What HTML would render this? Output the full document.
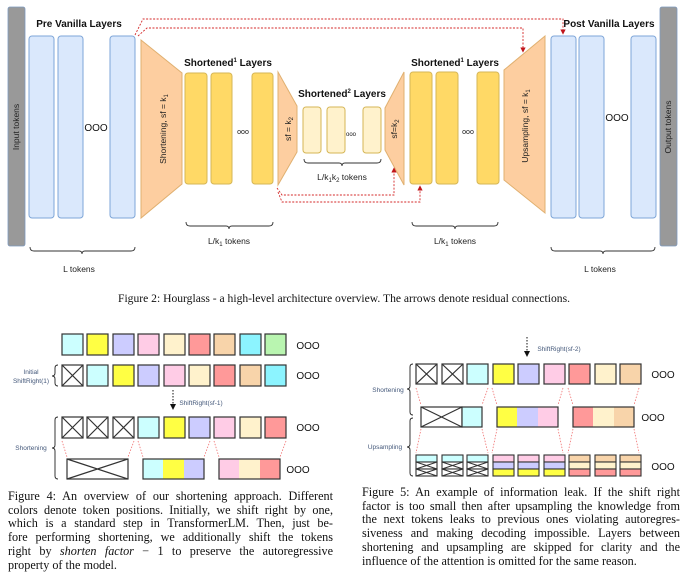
<!DOCTYPE html>
<html><head><meta charset="utf-8"><style>
body{margin:0;background:#fff;width:687px;height:584px;overflow:hidden;position:relative}
svg{position:absolute;left:0;top:0}
.cap{position:absolute;font-family:"Liberation Serif",serif;font-size:12.2px;line-height:13.7px;color:#111}
.cap div{text-align:justify;text-align-last:justify;white-space:nowrap}
.cap div.l{text-align-last:left}
</style></head><body>
<svg width="687" height="584" viewBox="0 0 687 584" font-family="Liberation Sans, sans-serif">
<defs>
<marker id="ar" markerWidth="6" markerHeight="6" refX="3" refY="3" orient="auto"><path d="M0,0 L6,3 L0,6 z" fill="#c0151b"/></marker>
<marker id="ak" markerWidth="6" markerHeight="6" refX="3" refY="3" orient="auto"><path d="M0,0 L6,3 L0,6 z" fill="#111"/></marker>
</defs>
<rect x="8" y="7" width="17" height="239" rx="2" fill="#999" stroke="#7e9ac0" stroke-width="0.8"/>
<text transform="translate(19,127) rotate(-90)" text-anchor="middle" font-size="8.5" fill="#222">Input tokens</text>
<rect x="660" y="7" width="17" height="239" rx="2" fill="#999" stroke="#7e9ac0" stroke-width="0.8"/>
<text transform="translate(671,127) rotate(-90)" text-anchor="middle" font-size="8.5" fill="#222">Output tokens</text>
<g fill="#dae8fc" stroke="#7ea6d8" stroke-width="1">
<rect x="29" y="36" width="25" height="182" rx="3"/><rect x="58" y="36" width="25" height="182" rx="3"/><rect x="110" y="36" width="25" height="182" rx="3"/>
<rect x="551" y="36" width="25" height="182" rx="3"/><rect x="579" y="36" width="25" height="182" rx="3"/><rect x="631" y="36" width="25" height="182" rx="3"/>
</g>
<g font-size="10" font-weight="bold" fill="#111">
<text x="79" y="27" text-anchor="middle">Pre Vanilla Layers</text>
<text x="609" y="27" text-anchor="middle">Post Vanilla Layers</text>
<text x="228" y="66" text-anchor="middle">Shortened<tspan font-size="6" dy="-4">1</tspan><tspan dy="4"> Layers</tspan></text>
<text x="455" y="66" text-anchor="middle">Shortened<tspan font-size="6" dy="-4">1</tspan><tspan dy="4"> Layers</tspan></text>
<text x="342" y="97" text-anchor="middle">Shortened<tspan font-size="6" dy="-4">2</tspan><tspan dy="4"> Layers</tspan></text>
</g>
<g font-size="10" fill="#111" text-anchor="middle">
<text x="96" y="131">OOO</text><text x="617" y="121">OOO</text>
<text x="243" y="134" font-size="7">ooo</text><text x="468" y="134" font-size="7">ooo</text><text x="351" y="136" font-size="6">ooo</text>
</g>
<g fill="#fdcea0" stroke="#e0b070" stroke-width="1">
<path d="M141,40 L182,73 L182,184 L141,218 z"/>
<path d="M278,72 L297,106 L297,152 L278,185 z"/>
<path d="M404,72 L385,108 L385,150 L404,185 z"/>
<path d="M545,36 L504,70 L504,180 L545,213 z"/>
</g>
<g fill="#ffd966" stroke="#d6b656" stroke-width="1">
<rect x="185" y="73" width="22" height="111" rx="3"/><rect x="211" y="73" width="21" height="111" rx="3"/><rect x="252" y="73" width="21" height="111" rx="3"/>
<rect x="410" y="72" width="22" height="112" rx="3"/><rect x="436" y="72" width="22" height="112" rx="3"/><rect x="477" y="72" width="22" height="112" rx="3"/>
</g>
<g fill="#fff2cc" stroke="#d6b656" stroke-width="1">
<rect x="303" y="107" width="18" height="46" rx="3"/><rect x="327" y="107" width="18" height="46" rx="3"/><rect x="363" y="107" width="18" height="46" rx="3"/>
</g>
<g font-size="8.5" fill="#222" text-anchor="middle">
<text transform="translate(166,129) rotate(-90)">Shortening, sf = k<tspan font-size="6" dy="2">1</tspan></text>
<text transform="translate(291,129) rotate(-90)">sf = k<tspan font-size="6" dy="2">2</tspan></text>
<text transform="translate(397,129) rotate(-90)">sf=k<tspan font-size="6" dy="2">2</tspan></text>
<text transform="translate(528,126) rotate(-90)">Upsampling, sf = k<tspan font-size="6" dy="2">1</tspan></text>
<text x="79" y="272">L tokens</text><text x="600" y="272">L tokens</text>
<text x="229" y="244">L/k<tspan font-size="6" dy="2">1</tspan><tspan dy="-2"> tokens</tspan></text>
<text x="455" y="244">L/k<tspan font-size="6" dy="2">1</tspan><tspan dy="-2"> tokens</tspan></text>
<text x="342" y="180">L/k<tspan font-size="6" dy="2">1</tspan><tspan dy="-2">k</tspan><tspan font-size="6" dy="2">2</tspan><tspan dy="-2"> tokens</tspan></text>
</g>
<g fill="none" stroke="#333" stroke-width="0.9">
<path d="M30,247 q0,4 4,4 L79,251 q3,0 3,3 q0,-3 3,-3 L131,251 q4,0 4,-4"/>
<path d="M551,247 q0,4 4,4 L600,251 q3,0 3,3 q0,-3 3,-3 L651,251 q4,0 4,-4"/>
<path d="M186,222 q0,4 4,4 L226,226 q3,0 3,3 q0,-3 3,-3 L269,226 q4,0 4,-4"/>
<path d="M412,222 q0,4 4,4 L452,226 q3,0 3,3 q0,-3 3,-3 L494,226 q4,0 4,-4"/>
<path d="M304,159 q0,4 4,4 L339,163 q3,0 3,3 q0,-3 3,-3 L377,163 q4,0 4,-4"/>
</g>
<g fill="none" stroke="#d42a2a" stroke-width="0.9" stroke-dasharray="2,1.5">
<path d="M135,35 L143,19 L563,19 L563,32" marker-end="url(#ar)"/>
<path d="M138,36 L147,28 L523,28 L523,50" marker-end="url(#ar)"/>
<path d="M277,188 L282,195 L394,195 L394,170" marker-end="url(#ar)"/>
<path d="M278,192 L282,202 L420,202 L420,188" marker-end="url(#ar)"/>
</g>
<text x="344" y="302" text-anchor="middle" font-family="Liberation Serif, serif" font-size="11.6" fill="#111" textLength="452" lengthAdjust="spacingAndGlyphs">Figure 2: Hourglass - a high-level architecture overview. The arrows denote residual connections.</text>

<g stroke="#333" stroke-width="1.2">
<rect x="62" y="334" width="21" height="21" fill="#ccffff"/><rect x="87" y="334" width="21" height="21" fill="#ffff44"/><rect x="113" y="334" width="21" height="21" fill="#ccccff"/><rect x="138" y="334" width="21" height="21" fill="#ffcce6"/><rect x="164" y="334" width="21" height="21" fill="#fff2cc"/><rect x="189" y="334" width="21" height="21" fill="#ff9999"/><rect x="214" y="334" width="21" height="21" fill="#f8d4aa"/><rect x="240" y="334" width="21" height="21" fill="#8cf4ff"/><rect x="265" y="334" width="21" height="21" fill="#b9f5b0"/>
<rect x="62" y="365" width="21" height="21" fill="#fff"/><path d="M62,365 L83,386 M83,365 L62,386"/>
<rect x="87" y="365" width="21" height="21" fill="#ccffff"/><rect x="113" y="365" width="21" height="21" fill="#ffff44"/><rect x="138" y="365" width="21" height="21" fill="#ccccff"/><rect x="164" y="365" width="21" height="21" fill="#ffcce6"/><rect x="189" y="365" width="21" height="21" fill="#fff2cc"/><rect x="214" y="365" width="21" height="21" fill="#ff9999"/><rect x="240" y="365" width="21" height="21" fill="#f8d4aa"/><rect x="265" y="365" width="21" height="21" fill="#8cf4ff"/>
<rect x="62" y="417" width="21" height="21" fill="#fff"/><path d="M62,417 L83,438 M83,417 L62,438"/>
<rect x="87" y="417" width="21" height="21" fill="#fff"/><path d="M87,417 L108,438 M108,417 L87,438"/>
<rect x="113" y="417" width="21" height="21" fill="#fff"/><path d="M113,417 L134,438 M134,417 L113,438"/>
<rect x="138" y="417" width="21" height="21" fill="#ccffff"/><rect x="164" y="417" width="21" height="21" fill="#ffff44"/><rect x="189" y="417" width="21" height="21" fill="#ccccff"/><rect x="214" y="417" width="21" height="21" fill="#ffcce6"/><rect x="240" y="417" width="21" height="21" fill="#fff2cc"/><rect x="265" y="417" width="21" height="21" fill="#ff9999"/>
<rect x="67" y="459" width="61" height="20" fill="#fff"/><path d="M67,459 L128,479 M128,459 L67,479"/>
<rect x="143" y="459" width="20" height="20" fill="#ccffff" stroke="none"/><rect x="163" y="459" width="21" height="20" fill="#ffff44" stroke="none"/><rect x="184" y="459" width="20" height="20" fill="#ccccff" stroke="none"/><rect x="143" y="459" width="61" height="20" fill="none"/>
<rect x="219" y="459" width="20" height="20" fill="#ffcce6" stroke="none"/><rect x="239" y="459" width="21" height="20" fill="#fff2cc" stroke="none"/><rect x="260" y="459" width="20" height="20" fill="#ff9999" stroke="none"/><rect x="219" y="459" width="61" height="20" fill="none"/>
</g>
<g fill="none" stroke="#f07070" stroke-width="0.8" stroke-dasharray="1.5,1.5">
<path d="M62,441 L67,457 M134,441 L128,457 M138,441 L143,457 M210,441 L204,457 M214,441 L219,457 M286,441 L280,457"/>
<path d="M416,388 L421,405 M488,388 L482,405 M492,388 L497,405 M563,388 L558,405 M568,388 L573,405 M639,388 L634,405"/>
<path d="M421,429 L416,453 M482,429 L488,453 M497,429 L492,453 M558,429 L563,453 M573,429 L568,453 M634,429 L639,453"/>
</g>
<g font-size="10" fill="#111" text-anchor="middle"><text x="308" y="349">OOO</text><text x="308" y="379">OOO</text><text x="308" y="431">OOO</text><text x="298" y="473">OOO</text>
<text x="663" y="378">OOO</text><text x="653" y="421">OOO</text><text x="663" y="470">OOO</text></g>
<g font-size="6.5" fill="#44587a" text-anchor="middle">
<text x="31" y="374">Initial</text><text x="31" y="383">ShiftRight(1)</text>
<text x="31" y="450">Shortening</text>
<text x="201" y="405">ShiftRight(sf-1)</text>
<text x="388" y="392">Shortening</text><text x="385" y="449">Upsampling</text>
<text x="559" y="351">ShiftRight(sf-2)</text>
</g>
<g fill="none" stroke="#222" stroke-width="0.9">
<path d="M58,365 q-3,0 -3,3 L55,373 q0,3 -3,3 q3,0 3,3 L55,383 q0,3 3,3"/>
<path d="M58,417 q-3,0 -3,3 L55,445 q0,3 -3,3 q3,0 3,3 L55,476 q0,3 3,3"/>
<path d="M413,364 q-3,0 -3,3 L410,386 q0,3 -3,3 q3,0 3,3 L410,412 q0,3 3,3"/>
<path d="M413,418 q-3,0 -3,3 L410,444 q0,3 -3,3 q3,0 3,3 L410,473 q0,3 3,3"/>
</g>
<path d="M173,390 L173,407" stroke="#111" stroke-width="1" stroke-dasharray="1.5,1.5" marker-end="url(#ak)"/>
<path d="M527,337 L527,354" stroke="#111" stroke-width="1" stroke-dasharray="1.5,1.5" marker-end="url(#ak)"/>

<g stroke="#333" stroke-width="1.2">
<rect x="416" y="364" width="21" height="20" fill="#fff"/><path d="M416,364 L437,384 M437,364 L416,384"/>
<rect x="442" y="364" width="21" height="20" fill="#fff"/><path d="M442,364 L463,384 M463,364 L442,384"/>
<rect x="467" y="364" width="21" height="20" fill="#ccffff"/><rect x="493" y="364" width="21" height="20" fill="#ffff44"/><rect x="518" y="364" width="21" height="20" fill="#ccccff"/><rect x="544" y="364" width="21" height="20" fill="#ffcce6"/><rect x="569" y="364" width="21" height="20" fill="#ff9999"/><rect x="595" y="364" width="21" height="20" fill="#fff2cc"/><rect x="620" y="364" width="21" height="20" fill="#f8d4aa"/>
<rect x="421" y="407" width="41" height="20" fill="#fff"/><path d="M421,407 L462,427 M462,407 L421,427"/><rect x="462" y="407" width="20" height="20" fill="#ccffff"/>
<rect x="497" y="407" width="20" height="20" fill="#ffff44" stroke="none"/><rect x="517" y="407" width="21" height="20" fill="#ccccff" stroke="none"/><rect x="538" y="407" width="20" height="20" fill="#ffcce6" stroke="none"/><rect x="497" y="407" width="61" height="20" fill="none"/>
<rect x="573" y="407" width="20" height="20" fill="#ff9999" stroke="none"/><rect x="593" y="407" width="21" height="20" fill="#fff2cc" stroke="none"/><rect x="614" y="407" width="20" height="20" fill="#f8d4aa" stroke="none"/><rect x="573" y="407" width="61" height="20" fill="none"/>
</g>
<g stroke="#333" stroke-width="1.1">
<g id="cx"><rect x="416" y="455" width="21" height="7" fill="#ccffff"/><rect x="416" y="462" width="21" height="7" fill="#fff"/><rect x="416" y="469" width="21" height="7" fill="#fff"/><path d="M416,462 L437,469 M437,462 L416,469 M416,469 L437,476 M437,469 L416,476"/></g>
<use href="#cx" x="26"/><use href="#cx" x="51"/>
<g id="cp"><rect x="493" y="455" width="21" height="7" fill="#ffcce6"/><rect x="493" y="462" width="21" height="7" fill="#ccccff"/><rect x="493" y="469" width="21" height="7" fill="#ffff44"/></g>
<use href="#cp" x="25"/><use href="#cp" x="51"/>
<g id="cr"><rect x="569" y="455" width="21" height="7" fill="#f8d4aa"/><rect x="569" y="462" width="21" height="7" fill="#fff2cc"/><rect x="569" y="469" width="21" height="7" fill="#ff9999"/></g>
<use href="#cr" x="26"/><use href="#cr" x="51"/>
</g>
</svg>
<div class="cap" style="left:8px;top:490px;width:325px">
<div>Figure 4: An overview of our shortening approach. Different</div>
<div>colors denote token positions. Initially, we shift right by one,</div>
<div>which is a standard step in TransformerLM. Then, just be-</div>
<div>fore performing shortening, we additionally shift the tokens</div>
<div>right by <i>shorten factor</i> − 1 to preserve the autoregressive</div>
<div class="l">property of the model.</div>
</div>
<div class="cap" style="left:362px;top:486px;width:318px">
<div>Figure 5: An example of information leak. If the shift right</div>
<div>factor is too small then after upsampling the knowledge from</div>
<div>the next tokens leaks to previous ones violating autoregres-</div>
<div>siveness and making decoding impossible. Layers between</div>
<div>shortening and upsampling are skipped for clarity and the</div>
<div class="l">influence of the attention is omitted for the same reason.</div>
</div>
</body></html>
